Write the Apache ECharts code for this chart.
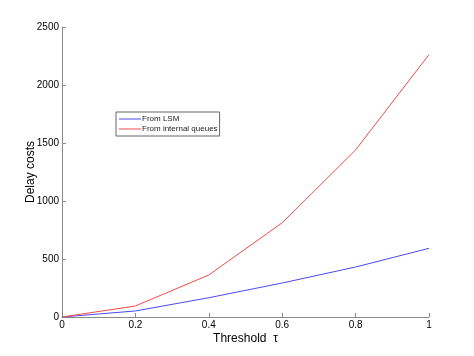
<!DOCTYPE html>
<html><head><meta charset="utf-8">
<script src="https://cdn.jsdelivr.net/npm/echarts@6/dist/echarts.min.js"></script>
<style>html,body{margin:0;padding:0;background:#fff}#c{width:474px;height:356px}</style>
</head><body><div id="c"></div>
<script>
var thresholds = [0, 0.2, 0.4, 0.6, 0.8, 1];
var fromLSM = [0, 52, 166, 293, 431, 592];
var fromQueues = [0, 95, 362, 812, 1440, 2262];
var xTicks = [0, 0.2, 0.4, 0.6, 0.8, 1];
var yTicks = [0, 500, 1000, 1500, 2000, 2500];

function pairs(xs, ys){ return xs.map(function(x,i){ return [x, ys[i]]; }); }

var chart = echarts.init(document.getElementById('c'));
var axisCol = '#8a8a8a';
var font = 'Liberation Sans';
chart.setOption({
  animation: false,
  backgroundColor: '#fff',
  grid: {left: 62, right: 45, top: 27, bottom: 39, containLabel: false},
  legend: {
    orient: 'vertical', left: 116, top: 112,
    borderColor: '#666', borderWidth: 1, borderRadius: 0,
    padding: [3, 2, 3, 3], itemGap: 2,
    itemWidth: 22, itemHeight: 8,
    textStyle: {fontFamily: font, fontSize: 8, color: '#222', padding: [0,0,0,-4]},
    data: [{name: 'From LSM', icon: 'path://M0,5 L22,5 L22,6 L0,6 Z'},
           {name: 'From internal queues', icon: 'path://M0,5 L22,5 L22,6 L0,6 Z'}]
  },
  xAxis: {
    type: 'value', min: 0, max: 1, interval: 0.2,
    name: 'Threshold  \u03c4', nameLocation: 'middle', nameGap: 16, nameMoveOverlap: false,
    nameTextStyle: {fontFamily: font, fontSize: 12, color: '#000'},
    axisLine: {lineStyle: {color: axisCol, width: 1}},
    axisTick: {inside: true, length: 4, lineStyle: {color: axisCol}},
    axisLabel: {fontFamily: font, fontSize: 10, color: '#000', margin: 3,
      formatter: function(v){ return xTicks.indexOf(v) >= 0 ? String(v) : ''; }},
    splitLine: {show: false}
  },
  yAxis: {
    type: 'value', min: 0, max: 2500, interval: 500,
    name: 'Delay costs', nameLocation: 'middle', nameGap: 25, nameMoveOverlap: false,
    nameTextStyle: {fontFamily: font, fontSize: 12, color: '#000'},
    axisLine: {show: true, lineStyle: {color: axisCol, width: 1}},
    axisTick: {show: true, inside: true, length: 4, lineStyle: {color: axisCol}},
    axisLabel: {fontFamily: font, fontSize: 10, color: '#000', margin: 3,
      formatter: function(v){ return yTicks.indexOf(v) >= 0 ? String(v) : ''; }},
    splitLine: {show: false}
  },
  series: [
    {name: 'From LSM', type: 'line', data: pairs(thresholds, fromLSM), symbol: 'none',
     lineStyle: {color: '#4a4af0', width: 1}, itemStyle: {color: '#4a4af0'}},
    {name: 'From internal queues', type: 'line', data: pairs(thresholds, fromQueues), symbol: 'none',
     lineStyle: {color: '#f04a4a', width: 1}, itemStyle: {color: '#f04a4a'}}
  ]
});
</script></body></html>
